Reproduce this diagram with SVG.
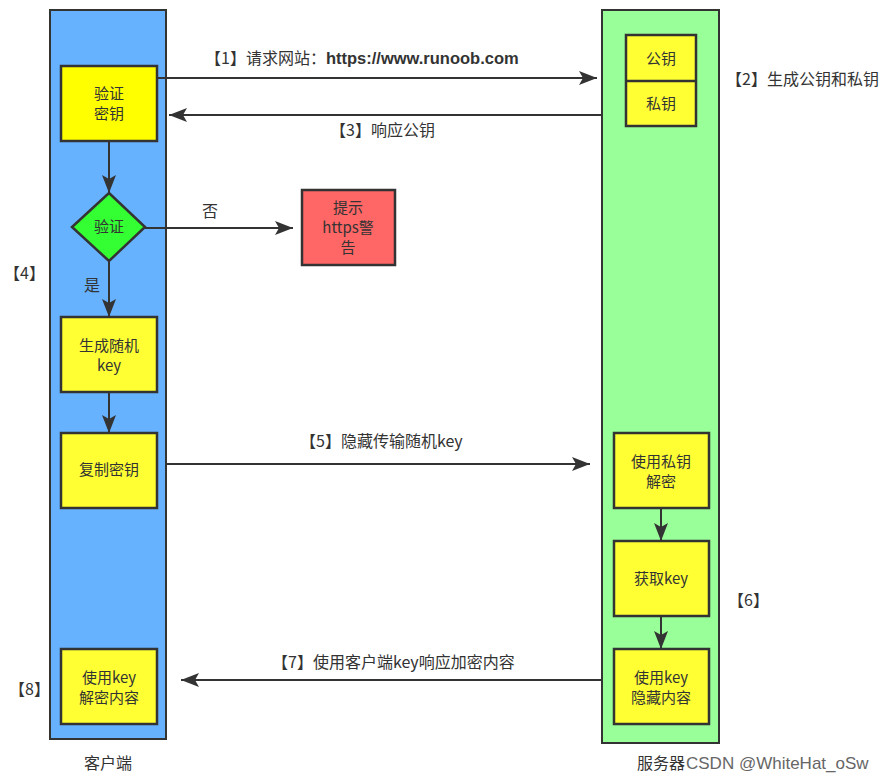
<svg xmlns="http://www.w3.org/2000/svg" width="883" height="780" viewBox="0 0 883 780">
<defs>
<marker id="ah" markerUnits="userSpaceOnUse" markerWidth="20" markerHeight="14" refX="18" refY="7" orient="auto">
<path d="M0,0 L18,7 L0,14 L4,7 Z" fill="#333"/>
</marker>
<style>
.lane{stroke:#333;stroke-width:2}
.box{stroke:#333;stroke-width:2.5}
.y{fill:#FFFF33}
.t{font-family:"Noto Sans CJK SC","Noto Sans",sans-serif;font-size:16px;fill:#333}
.n{font-family:"Noto Sans CJK SC","Noto Sans",sans-serif;font-size:15px;fill:#333;text-anchor:middle}
.c{text-anchor:middle}
.ln{stroke:#333;stroke-width:2;fill:none}
</style>
</defs>
<rect width="883" height="780" fill="#fff"/>
<g id="client-lane">
<rect class="lane" x="50" y="10" width="116" height="729" fill="#66B2FF"/>
<text class="t c" x="108" y="769">客户端</text>
</g>
<g id="server-lane">
<rect class="lane" x="602" y="10" width="117" height="733" fill="#99FF99"/>
<text class="t" x="637" y="769">服务器</text>
<text x="686" y="769" style="font-family:'Liberation Sans',sans-serif;font-size:17px;fill:#666">CSDN @WhiteHat_oSw</text>
</g>
<g id="verify-key">
<rect class="box" x="61" y="66" width="96" height="75" fill="#FFFF00"/>
<text class="n" x="109" y="99">验证</text>
<text class="n" x="109" y="119">密钥</text>
</g>
<g id="verify">
<path class="box" d="M109,193 L145,227 L109,261 L72,227 Z" fill="#33FF33"/>
<text class="n" x="109" y="232">验证</text>
</g>
<g id="warn">
<rect class="box" x="302" y="190" width="93" height="75" fill="#FF6666"/>
<text class="n" x="348" y="213">提示</text>
<text class="n" x="348" y="233">https警</text>
<text class="n" x="348" y="253">告</text>
</g>
<g id="gen-key">
<rect class="box y" x="61" y="317" width="96" height="75"/>
<text class="n" x="109" y="351">生成随机</text>
<text class="n" x="109" y="371">key</text>
</g>
<g id="copy-key">
<rect class="box y" x="61" y="433" width="96" height="75"/>
<text class="n" x="109" y="475">复制密钥</text>
</g>
<g id="decrypt-content">
<rect class="box y" x="61" y="649" width="96" height="75"/>
<text class="n" x="109" y="683">使用key</text>
<text class="n" x="109" y="703">解密内容</text>
</g>
<g id="key-pair">
<rect class="box y" x="626" y="35" width="70" height="91"/>
<line class="ln" x1="626" y1="81" x2="696" y2="81" style="stroke-width:2.5"/>
<text class="n" x="661" y="64">公钥</text>
<text class="n" x="661" y="109">私钥</text>
</g>
<g id="priv-decrypt">
<rect class="box y" x="614" y="433" width="95" height="75"/>
<text class="n" x="661" y="467">使用私钥</text>
<text class="n" x="661" y="487">解密</text>
</g>
<g id="get-key">
<rect class="box y" x="614" y="541" width="95" height="75"/>
<text class="n" x="661" y="584">获取key</text>
</g>
<g id="hide-content">
<rect class="box y" x="614" y="649" width="95" height="75"/>
<text class="n" x="661" y="683">使用key</text>
<text class="n" x="661" y="703">隐藏内容</text>
</g>
<g id="labels">
<text class="t" x="205" y="64">【1】请求网站：<tspan style="font-family:'Liberation Sans',sans-serif;font-size:16.5px;font-weight:bold">https://www.runoob.com</tspan></text>
<text class="t" x="726" y="85">【2】生成公钥和私钥</text>
<text class="t" x="330" y="136">【3】响应公钥</text>
<text class="t" x="4" y="279">【4】</text>
<text class="t" x="300" y="447">【5】隐藏传输随机key</text>
<text class="t" x="728" y="606">【6】</text>
<text class="t" x="272" y="668">【7】使用客户端key响应加密内容</text>
<text class="t" x="9" y="695">【8】</text>
<text class="t" x="202" y="217">否</text>
<text class="t" x="84" y="291">是</text>
</g>
<g id="connectors">
<line class="ln" x1="157" y1="78" x2="597" y2="78" marker-end="url(#ah)"/>
<line class="ln" x1="602" y1="115" x2="169" y2="115" marker-end="url(#ah)"/>
<line class="ln" x1="109" y1="141" x2="109" y2="193" marker-end="url(#ah)"/>
<line class="ln" x1="145" y1="228" x2="293" y2="228" marker-end="url(#ah)"/>
<line class="ln" x1="109" y1="261" x2="109" y2="317" marker-end="url(#ah)"/>
<line class="ln" x1="109" y1="392" x2="109" y2="433" marker-end="url(#ah)"/>
<line class="ln" x1="167" y1="464" x2="590" y2="464" marker-end="url(#ah)"/>
<line class="ln" x1="661" y1="508" x2="661" y2="541" marker-end="url(#ah)"/>
<line class="ln" x1="661" y1="616" x2="661" y2="649" marker-end="url(#ah)"/>
<line class="ln" x1="602" y1="680" x2="181" y2="680" marker-end="url(#ah)"/>
</g>
</svg>
